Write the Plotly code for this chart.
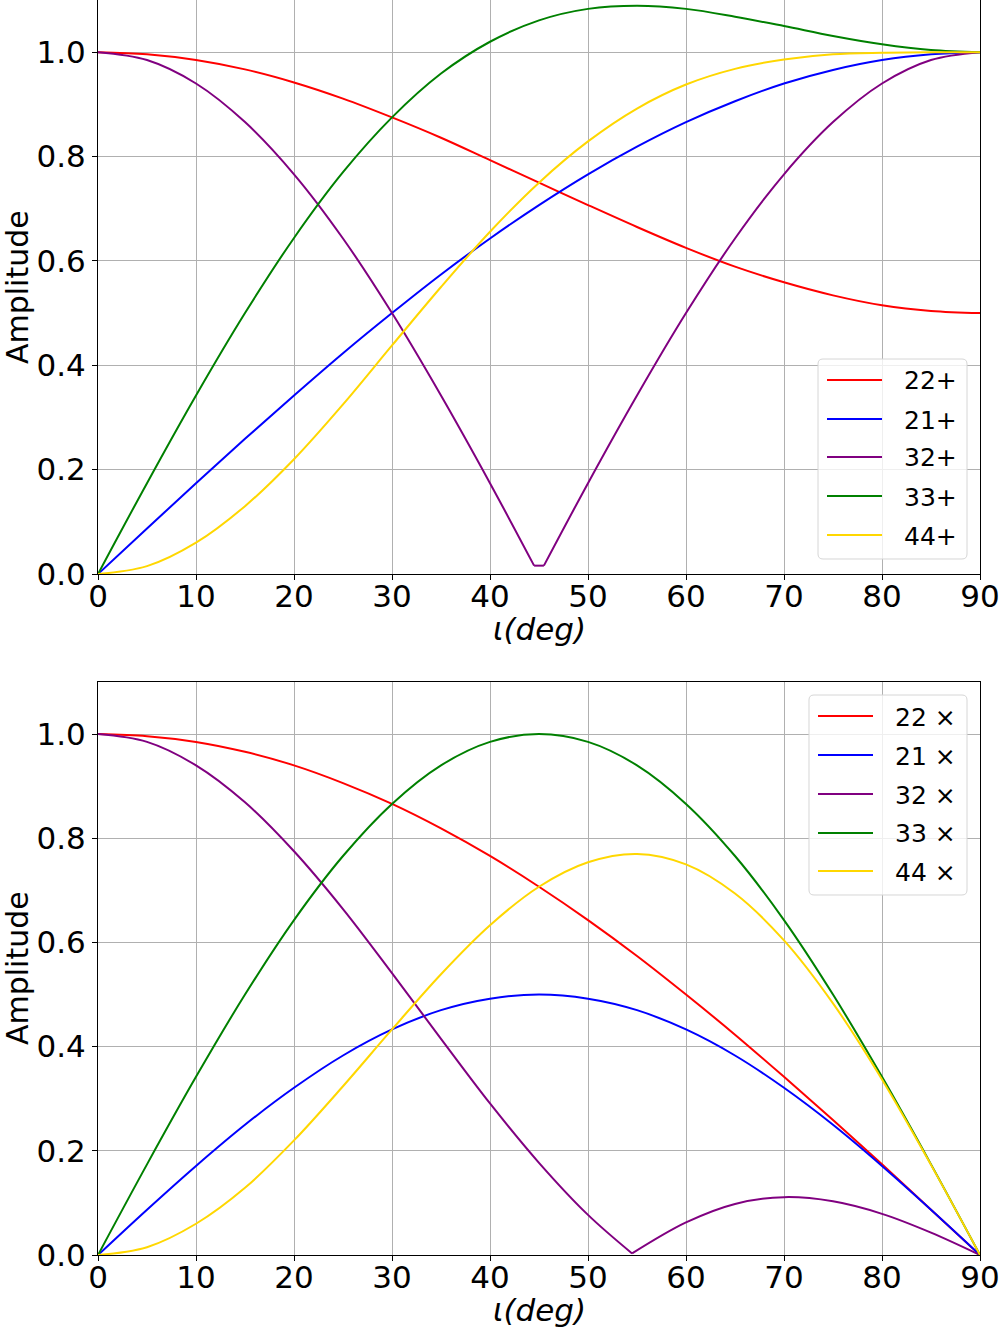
import plotly.graph_objects as go

# ---------------- data ----------------
iota_deg = [0, 5, 10, 15, 20, 25, 30, 35, 40, 45, 50, 55, 60, 65, 70, 75, 80, 85, 90]

amp_22p = [1.0, 0.996, 0.985, 0.967, 0.942, 0.911, 0.875, 0.836, 0.793, 0.750, 0.707,
           0.665, 0.625, 0.589, 0.559, 0.534, 0.515, 0.504, 0.500]
amp_21p = [0.0, 0.087, 0.174, 0.259, 0.342, 0.423, 0.500, 0.574, 0.643, 0.707, 0.766,
           0.819, 0.866, 0.906, 0.940, 0.966, 0.985, 0.996, 1.0]
iota_32p = [0, 5, 10, 15, 20, 25, 30, 35, 40, 44.5, 45.5, 50, 55, 60, 65, 70, 75, 80, 85, 90]
amp_32p = [1.0, 0.985, 0.940, 0.866, 0.766, 0.643, 0.500, 0.342, 0.174, 0.016, 0.016,
           0.174, 0.342, 0.500, 0.643, 0.766, 0.866, 0.940, 0.985, 1.0]
amp_33p = [0.0, 0.174, 0.342, 0.500, 0.644, 0.770, 0.875, 0.959, 1.020, 1.061, 1.083,
           1.089, 1.083, 1.068, 1.050, 1.031, 1.015, 1.004, 1.0]
amp_44p = [0.0, 0.015, 0.060, 0.130, 0.220, 0.325, 0.438, 0.550, 0.656, 0.750, 0.829,
           0.892, 0.938, 0.968, 0.986, 0.996, 0.999, 1.0, 1.0]

amp_22x = [1.0, 0.996, 0.985, 0.966, 0.940, 0.906, 0.866, 0.819, 0.766, 0.707, 0.643,
           0.574, 0.500, 0.423, 0.342, 0.259, 0.174, 0.087, 0.0]
amp_21x = [0.0, 0.087, 0.171, 0.250, 0.321, 0.383, 0.433, 0.470, 0.492, 0.500, 0.492,
           0.470, 0.433, 0.383, 0.321, 0.250, 0.171, 0.087, 0.0]
iota_32x = [0, 5, 10, 15, 20, 25, 30, 35, 40, 45, 50, 54.5, 60, 65, 70, 75, 80, 85, 90]
amp_32x = [1.0, 0.985, 0.940, 0.869, 0.775, 0.664, 0.541, 0.415, 0.291, 0.177, 0.077,
           0.003, 0.0625, 0.098, 0.111, 0.103, 0.079, 0.043, 0.0]
amp_33x = [0.0, 0.174, 0.342, 0.500, 0.643, 0.766, 0.866, 0.940, 0.985, 1.0, 0.985,
           0.940, 0.866, 0.766, 0.643, 0.500, 0.342, 0.174, 0.0]
amp_44x = [0.0, 0.015, 0.060, 0.129, 0.220, 0.324, 0.433, 0.539, 0.633, 0.707, 0.754,
           0.770, 0.750, 0.694, 0.604, 0.483, 0.337, 0.173, 0.0]

top_labels = ["22+", "21+", "32+", "33+", "44+"]
bottom_labels = ["22 ×", "21 ×", "32 ×", "33 ×", "44 ×"]
colors = ["red", "blue", "purple", "green", "gold"]

top_series = [(iota_deg, amp_22p, []), (iota_deg, amp_21p, []), (iota_32p, amp_32p, [9, 10]),
              (iota_deg, amp_33p, []), (iota_deg, amp_44p, [])]
bottom_series = [(iota_deg, amp_22x, []), (iota_deg, amp_21x, []), (iota_32x, amp_32x, [11]),
                 (iota_deg, amp_33x, []), (iota_deg, amp_44x, [])]

FONT = "DejaVu Sans"
fig = go.Figure()


def add_series(series, labels, xaxis, yaxis, group_prefix):
    for (xs, ys, kinks), lab, col in zip(series, labels, colors):
        cuts = [0] + kinks + [len(xs) - 1]
        for k in range(len(cuts) - 1):
            a, b = cuts[k], cuts[k + 1]
            fig.add_trace(go.Scatter(
                x=xs[a:b + 1], y=ys[a:b + 1], mode="lines",
                line=dict(color=col, width=2, shape="spline", smoothing=1.0),
                name=lab, legendgroup=group_prefix + lab, showlegend=False,
                xaxis=xaxis, yaxis=yaxis))


add_series(top_series, top_labels, "x", "y", "top")
add_series(bottom_series, bottom_labels, "x2", "y2", "bot")

# ---------------- layout geometry (pixels) ----------------
L, R, T, B = 98, 20, 0, 83
W, H = 1000, 1338
PW, PH = W - L - R, H - T - B


def px_x(X):
    return (X - L) / PW


def px_y(Y):
    return (PH + T - Y) / PH


top_dom = [px_y(574), 1.0]
bot_dom = [0.0, px_y(682)]

axis_common = dict(
    showgrid=True, gridcolor="#b0b0b0", gridwidth=1,
    showline=True, linecolor="black", linewidth=1, mirror=True,
    ticks="outside", ticklen=5, tickwidth=1, tickcolor="black",
    tickfont=dict(family=FONT, size=31, color="black"),
    zeroline=False,
)
xaxis_extra = dict(range=[0, 90], dtick=10, ticklabelstandoff=-10)
yaxis_extra = dict(range=[0, 1.1], dtick=0.2, tickformat=".1f")

fig.update_layout(
    width=W, height=H,
    margin=dict(l=L, r=R, t=T, b=B),
    paper_bgcolor="white", plot_bgcolor="white",
    font=dict(family=FONT, color="black"),
    showlegend=False,
    xaxis=dict(domain=[0, 1], anchor="y", **xaxis_extra, **axis_common),
    yaxis=dict(domain=top_dom, anchor="x", **yaxis_extra, **axis_common),
    xaxis2=dict(domain=[0, 1], anchor="y2", **xaxis_extra, **axis_common),
    yaxis2=dict(domain=bot_dom, anchor="x2", **yaxis_extra, **axis_common),
)

# axis titles
title_font = dict(family=FONT, size=30, color="black")
for yc in [px_y(287), px_y(968)]:
    fig.add_annotation(text="Amplitude", textangle=-90, xref="paper", yref="paper",
                       x=px_x(18), y=yc, xanchor="center", yanchor="middle",
                       showarrow=False, font=title_font)
for yc in [px_y(629), px_y(1310)]:
    fig.add_annotation(text="<i>ι(deg)</i>", xref="paper", yref="paper",
                       x=0.5, y=yc, xanchor="center", yanchor="middle",
                       showarrow=False, font=dict(family=FONT, size=31, color="black"))


# ---------------- legends (matplotlib-style boxes) ----------------
def rounded_rect(x0, y0, x1, y1, r=5):
    # pixel coords, y downwards -> paper path
    pts = []
    def P(X, Y):
        return f"{px_x(X):.6f},{px_y(Y):.6f}"
    path = (f"M{P(x0 + r, y0)} L{P(x1 - r, y0)} Q{P(x1, y0)} {P(x1, y0 + r)} "
            f"L{P(x1, y1 - r)} Q{P(x1, y1)} {P(x1 - r, y1)} "
            f"L{P(x0 + r, y1)} Q{P(x0, y1)} {P(x0, y1 - r)} "
            f"L{P(x0, y0 + r)} Q{P(x0, y0)} {P(x0 + r, y0)} Z")
    return path


def draw_legend(box, rows, line_x, text_x, labels):
    x0, y0, x1, y1 = box
    fig.add_shape(type="path", path=rounded_rect(x0, y0, x1, y1), xref="paper", yref="paper",
                  fillcolor="rgba(255,255,255,0.8)", line=dict(color="#d6d6d6", width=1),
                  layer="above")
    for Y, lab, col in zip(rows, labels, colors):
        fig.add_shape(type="line", xref="paper", yref="paper",
                      x0=px_x(line_x[0]), x1=px_x(line_x[1]), y0=px_y(Y), y1=px_y(Y),
                      line=dict(color=col, width=2), layer="above")
        fig.add_annotation(text=lab, xref="paper", yref="paper", x=px_x(text_x), y=px_y(Y + 1),
                           xanchor="left", yanchor="middle", showarrow=False,
                           font=dict(family=FONT, size=25, color="black"))


draw_legend((818, 359, 967, 559), [380, 419, 457, 496, 535], (827, 882), 902, top_labels)
draw_legend((809, 695, 967, 895), [716, 755, 794, 833, 871], (818, 873), 893, bottom_labels)

fig.write_html("out.html")
